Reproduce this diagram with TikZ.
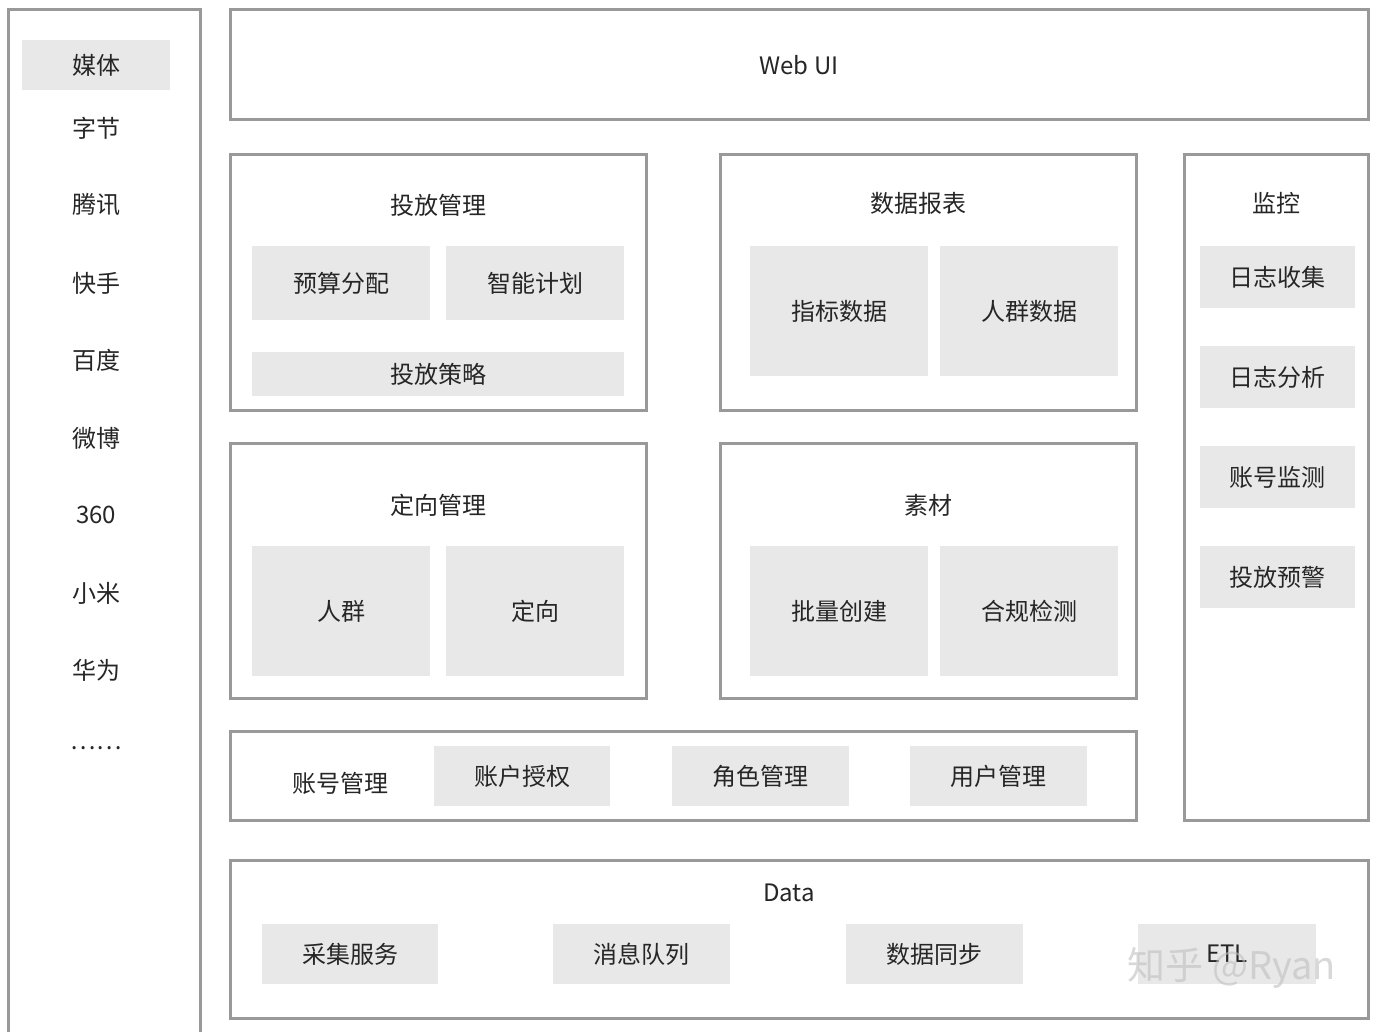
\documentclass[tikz,border=0pt]{standalone}
\usepackage{fontspec}
\setmainfont{Noto Sans CJK SC}
\begin{document}
\begin{tikzpicture}[x=0.5pt,y=-0.5pt,
  frame/.style={draw=black!40,line width=1.5pt,fill=white,inner sep=0pt,outer sep=0pt,font=\fontsize{12}{14}\selectfont,text=black!85},
  cell/.style={fill=black!9,draw=none,inner sep=0pt,outer sep=0pt,font=\fontsize{12}{14}\selectfont,text=black!85},
  lbl/.style={font=\fontsize{12}{14}\selectfont,text=black!85}]
\newcommand\bx[7]{\node[#1,minimum width={(#4-#2)*0.5pt},minimum height={(#5-#3)*0.5pt}] (#6) at ({(#2+#4)/2},{(#3+#5)/2}) {#7};}
\useasboundingbox[fill=white] (0,0) rectangle (1382,1032);
% left
\bx{frame}{8}{10}{200}{1045}{left}{}
\bx{cell}{22}{40}{170}{90}{media}{媒体}
\foreach \t/\y [count=\i] in {字节/128,腾讯/205,快手/283,百度/360,微博/438,360/515,小米/593,华为/670,……/748}
  \node[lbl] (m\i) at (96,\y) {\t};
% web
\bx{frame}{230}{10}{1368}{120}{web}{Web UI}
% 投放管理
\bx{frame}{230}{155}{646}{410}{tf}{}
\node[lbl] (tft) at (438,205) {投放管理};
\bx{cell}{252}{246}{430}{320}{tf1}{预算分配}
\bx{cell}{446}{246}{624}{320}{tf2}{智能计划}
\bx{cell}{252}{352}{624}{396}{tf3}{投放策略}
% 数据报表
\bx{frame}{720}{155}{1136}{410}{sj}{}
\node[lbl] (sjt) at (918,203) {数据报表};
\bx{cell}{750}{246}{928}{376}{sj1}{指标数据}
\bx{cell}{940}{246}{1118}{376}{sj2}{人群数据}
% 监控
\bx{frame}{1184}{155}{1368}{820}{jk}{}
\node[lbl] (jkt) at (1276,203) {监控};
\bx{cell}{1200}{246}{1355}{308}{jk1}{日志收集}
\bx{cell}{1200}{346}{1355}{408}{jk2}{日志分析}
\bx{cell}{1200}{446}{1355}{508}{jk3}{账号监测}
\bx{cell}{1200}{546}{1355}{608}{jk4}{投放预警}
% 定向管理
\bx{frame}{230}{443}{646}{698}{dx}{}
\node[lbl] (dxt) at (438,505) {定向管理};
\bx{cell}{252}{546}{430}{676}{dx1}{人群}
\bx{cell}{446}{546}{624}{676}{dx2}{定向}
% 素材
\bx{frame}{720}{443}{1136}{698}{sc}{}
\node[lbl] (sct) at (928,505) {素材};
\bx{cell}{750}{546}{928}{676}{sc1}{批量创建}
\bx{cell}{940}{546}{1118}{676}{sc2}{合规检测}
% 账号管理
\bx{frame}{230}{731}{1136}{820}{zh}{}
\node[lbl] (zht) at (340,783) {账号管理};
\bx{cell}{434}{746}{610}{806}{zh1}{账户授权}
\bx{cell}{672}{746}{849}{806}{zh2}{角色管理}
\bx{cell}{910}{746}{1087}{806}{zh3}{用户管理}
% Data
\bx{frame}{230}{860}{1368}{1018}{data}{}
\node[lbl] (datat) at (789,893) {Data};
\bx{cell}{262}{924}{438}{984}{d1}{采集服务}
\bx{cell}{553}{924}{730}{984}{d2}{消息队列}
\bx{cell}{846}{924}{1023}{984}{d3}{数据同步}
\bx{cell}{1138}{924}{1316}{984}{d4}{ETL}
\node[font=\fontsize{19}{22}\selectfont,text=black!25,opacity=0.6] (wm) at (1232,968) {知乎 @Ryan};
\end{tikzpicture}
\end{document}
